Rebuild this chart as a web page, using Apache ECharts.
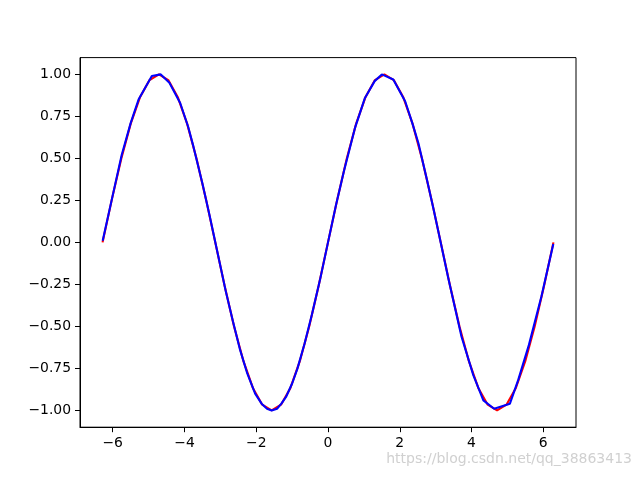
<!DOCTYPE html>
<html>
<head>
<meta charset="utf-8">
<script src="https://cdn.jsdelivr.net/npm/echarts@6/dist/echarts.min.js"></script>
<style>html,body{margin:0;padding:0;background:#fff;}#c{width:640px;height:480px;}</style>
</head>
<body>
<div id="c"></div>
<script>
// Red curve (true sine) sample points
var redX = [-6.283,-6.021,-5.760,-5.498,-5.236,-4.974,-4.712,-4.451,-4.189,-3.927,-3.665,-3.403,-3.142,-2.880,-2.618,-2.356,-2.094,-1.833,-1.571,-1.309,-1.047,-0.785,-0.524,-0.262,0.000,
            0.262,0.524,0.785,1.047,1.309,1.571,1.833,2.094,2.356,2.618,2.880,3.142,3.403,3.665,3.927,4.189,4.451,4.712,4.974,5.236,5.498,5.760,6.021,6.283];
var redY = [0.000,0.259,0.500,0.707,0.866,0.966,1.000,0.966,0.866,0.707,0.500,0.259,0.000,-0.259,-0.500,-0.707,-0.866,-0.966,-1.000,-0.966,-0.866,-0.707,-0.500,-0.259,0.000,
            0.259,0.500,0.707,0.866,0.966,1.000,0.966,0.866,0.707,0.500,0.259,0.000,-0.259,-0.500,-0.707,-0.866,-0.966,-1.000,-0.966,-0.866,-0.707,-0.500,-0.259,0.000];
// Blue curve (fitted prediction) vertices
var blueX = [-6.28,-6.00,-5.75,-5.50,-5.28,-4.91,-4.66,-4.42,-4.12,-3.90,-3.75,-3.50,-3.30,-3.05,-2.85,-2.65,-2.45,-2.25,-2.03,-1.85,-1.70,-1.57,-1.42,-1.30,-1.17,-1.00,-0.85,-0.65,-0.45,-0.22,0.00,
             0.22,0.45,0.75,1.03,1.30,1.50,1.82,2.15,2.35,2.52,2.75,2.95,3.15,3.35,3.55,3.72,4.05,4.33,4.63,5.07,5.30,5.60,5.95,6.28];
var blueY = [0.01,0.28,0.52,0.71,0.85,0.99,1.00,0.95,0.83,0.69,0.57,0.35,0.16,-0.09,-0.29,-0.47,-0.64,-0.78,-0.90,-0.96,-0.99,-1.00,-0.99,-0.96,-0.92,-0.84,-0.75,-0.60,-0.43,-0.22,0.00,
             0.22,0.43,0.68,0.86,0.96,1.00,0.97,0.84,0.71,0.59,0.38,0.19,-0.01,-0.21,-0.40,-0.56,-0.79,-0.94,-0.99,-0.96,-0.82,-0.61,-0.32,-0.01];
var xTicks = [-6,-4,-2,0,2,4,6];
var yTicks = [-1.00,-0.75,-0.50,-0.25,0.00,0.25,0.50,0.75,1.00];

function pairs(xs, ys){ return xs.map(function(x,i){ return [x, ys[i]]; }); }
function minus(s){ return String(s).replace('-', '\u2212'); }

var font = 'DejaVu Sans';
var chart = echarts.init(document.getElementById('c'), null, {renderer:'canvas'});
chart.setOption({
  animation:false,
  backgroundColor:'#ffffff',
  grid:{left:80, right:64, top:57.6, bottom:52.8, show:true, borderColor:'#000', borderWidth:1, backgroundColor:'transparent'},
  xAxis:{
    type:'value', min:-6.912, max:6.912,
    axisLine:{show:true, onZero:false, lineStyle:{color:'#000', width:1}},
    splitLine:{show:false},
    axisTick:{show:true, length:5, lineStyle:{color:'#000'}, customValues:xTicks},
    axisLabel:{show:true, margin:9, color:'#000', fontFamily:font, fontSize:13.9, customValues:xTicks,
      formatter:function(v){ return minus(Math.round(v)); }}
  },
  yAxis:{
    type:'value', min:-1.1, max:1.1,
    axisLine:{show:true, onZero:false, lineStyle:{color:'#000', width:1}},
    splitLine:{show:false},
    axisTick:{show:true, length:5, lineStyle:{color:'#000'}, customValues:yTicks},
    axisLabel:{show:true, margin:9, color:'#000', fontFamily:font, fontSize:13.9, customValues:yTicks,
      formatter:function(v){ return minus(v.toFixed(2)); }}
  },
  series:[
    {type:'line', data:pairs(redX, redY), showSymbol:false, lineStyle:{color:'#ff0000', width:2.1}, itemStyle:{color:'#ff0000'}, z:2},
    {type:'line', data:pairs(blueX, blueY), showSymbol:false, lineStyle:{color:'#0000ff', width:2.1}, itemStyle:{color:'#0000ff'}, z:3}
  ],
  graphic:[{
    type:'text', right:8, top:452,
    style:{text:'https://blog.csdn.net/qq_38863413', fill:'rgba(205,205,205,0.95)', font:'14px "DejaVu Sans"'}
  }]
});
</script>
</body>
</html>
